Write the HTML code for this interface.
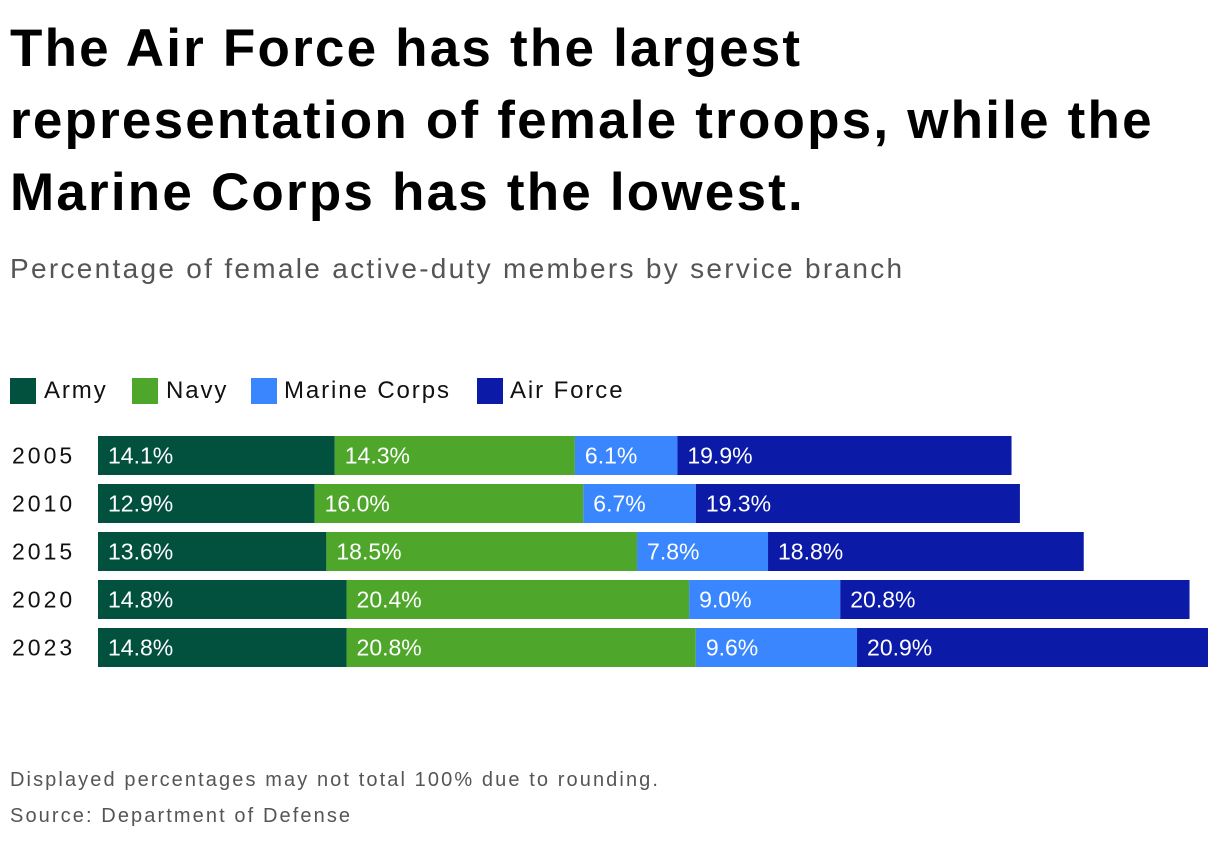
<!DOCTYPE html>
<html><head><meta charset="utf-8"><style>
body{margin:0;width:1220px;height:846px;background:#fff;font-family:"Liberation Sans",sans-serif;position:relative;overflow:hidden}
.t{position:absolute;left:10px;top:13px;font-size:53px;line-height:72px;color:#000;font-weight:bold;letter-spacing:2.2px;white-space:nowrap}
.s{position:absolute;left:10px;top:253px;font-size:28px;color:#555;letter-spacing:2.3px;white-space:nowrap}
.sw{position:absolute;top:378px;width:26px;height:26px}
.lt{position:absolute;top:377px;font-size:24px;color:#111;letter-spacing:1.9px;white-space:nowrap}
.f{position:absolute;left:10px;font-size:20px;color:#555;letter-spacing:2.1px;white-space:nowrap}
</style></head><body>
<div class="t">The Air Force has the largest<br>representation of female troops, while the<br>Marine Corps has the lowest.</div>
<div class="s">Percentage of female active-duty members by service branch</div>
<div>
<span class="sw" style="left:10px;background:#02513f"></span><span class="lt" style="left:44px">Army</span>
<span class="sw" style="left:132px;background:#4ea72a"></span><span class="lt" style="left:166px">Navy</span>
<span class="sw" style="left:251px;background:#3a86ff"></span><span class="lt" style="left:284px">Marine Corps</span>
<span class="sw" style="left:477px;background:#0c1aa8"></span><span class="lt" style="left:510px">Air Force</span>
</div>
<svg id="c" width="1220" height="846" style="position:absolute;left:0;top:0"></svg>
<div class="f" style="top:769px">Displayed percentages may not total 100% due to rounding.</div>
<div class="f" style="top:805px">Source: Department of Defense</div>
<script>
const years=["2005","2010","2015","2020","2023"];
const army=[14.1,12.9,13.6,14.8,14.8];
const navy=[14.3,16.0,18.5,20.4,20.8];
const marine=[6.1,6.7,7.8,9.0,9.6];
const airforce=[19.9,19.3,18.8,20.8,20.9];
const seriesNames=["army","navy","marine-corps","air-force"];
const colors=["#02513f","#4ea72a","#3a86ff","#0c1aa8"];
const series=[army,navy,marine,airforce];
const x0=98,scale=(1208-98)/66.1;
const xs=v=>x0+v*scale;
const ys=i=>436+i*48;
const bh=39;
const svg=document.getElementById('c');
const NS="http://www.w3.org/2000/svg";
years.forEach((yr,i)=>{
  const lab=document.createElementNS(NS,'text');
  
  
  lab.setAttribute('x',12);lab.setAttribute('y',ys(i)+bh/2+8);
  lab.setAttribute('font-size','23');lab.setAttribute('letter-spacing','3');lab.setAttribute('fill','#111');
  lab.textContent=yr;svg.appendChild(lab);
  let cum=0;
  series.forEach((s,k)=>{
    const v=s[i];
    const r=document.createElementNS(NS,'rect');
    
    
    r.setAttribute('x',xs(cum));r.setAttribute('y',ys(i));
    r.setAttribute('width',xs(cum+v)-xs(cum));r.setAttribute('height',bh);
    r.setAttribute('fill',colors[k]);svg.appendChild(r);
    const t=document.createElementNS(NS,'text');
    
    
    t.setAttribute('x',xs(cum)+10);t.setAttribute('y',ys(i)+bh/2+8);
    t.setAttribute('font-size','23');t.setAttribute('fill','#fff');
    t.textContent=v.toFixed(1)+'%';svg.appendChild(t);
    cum+=v;
  });
});
</script>
</body></html>
